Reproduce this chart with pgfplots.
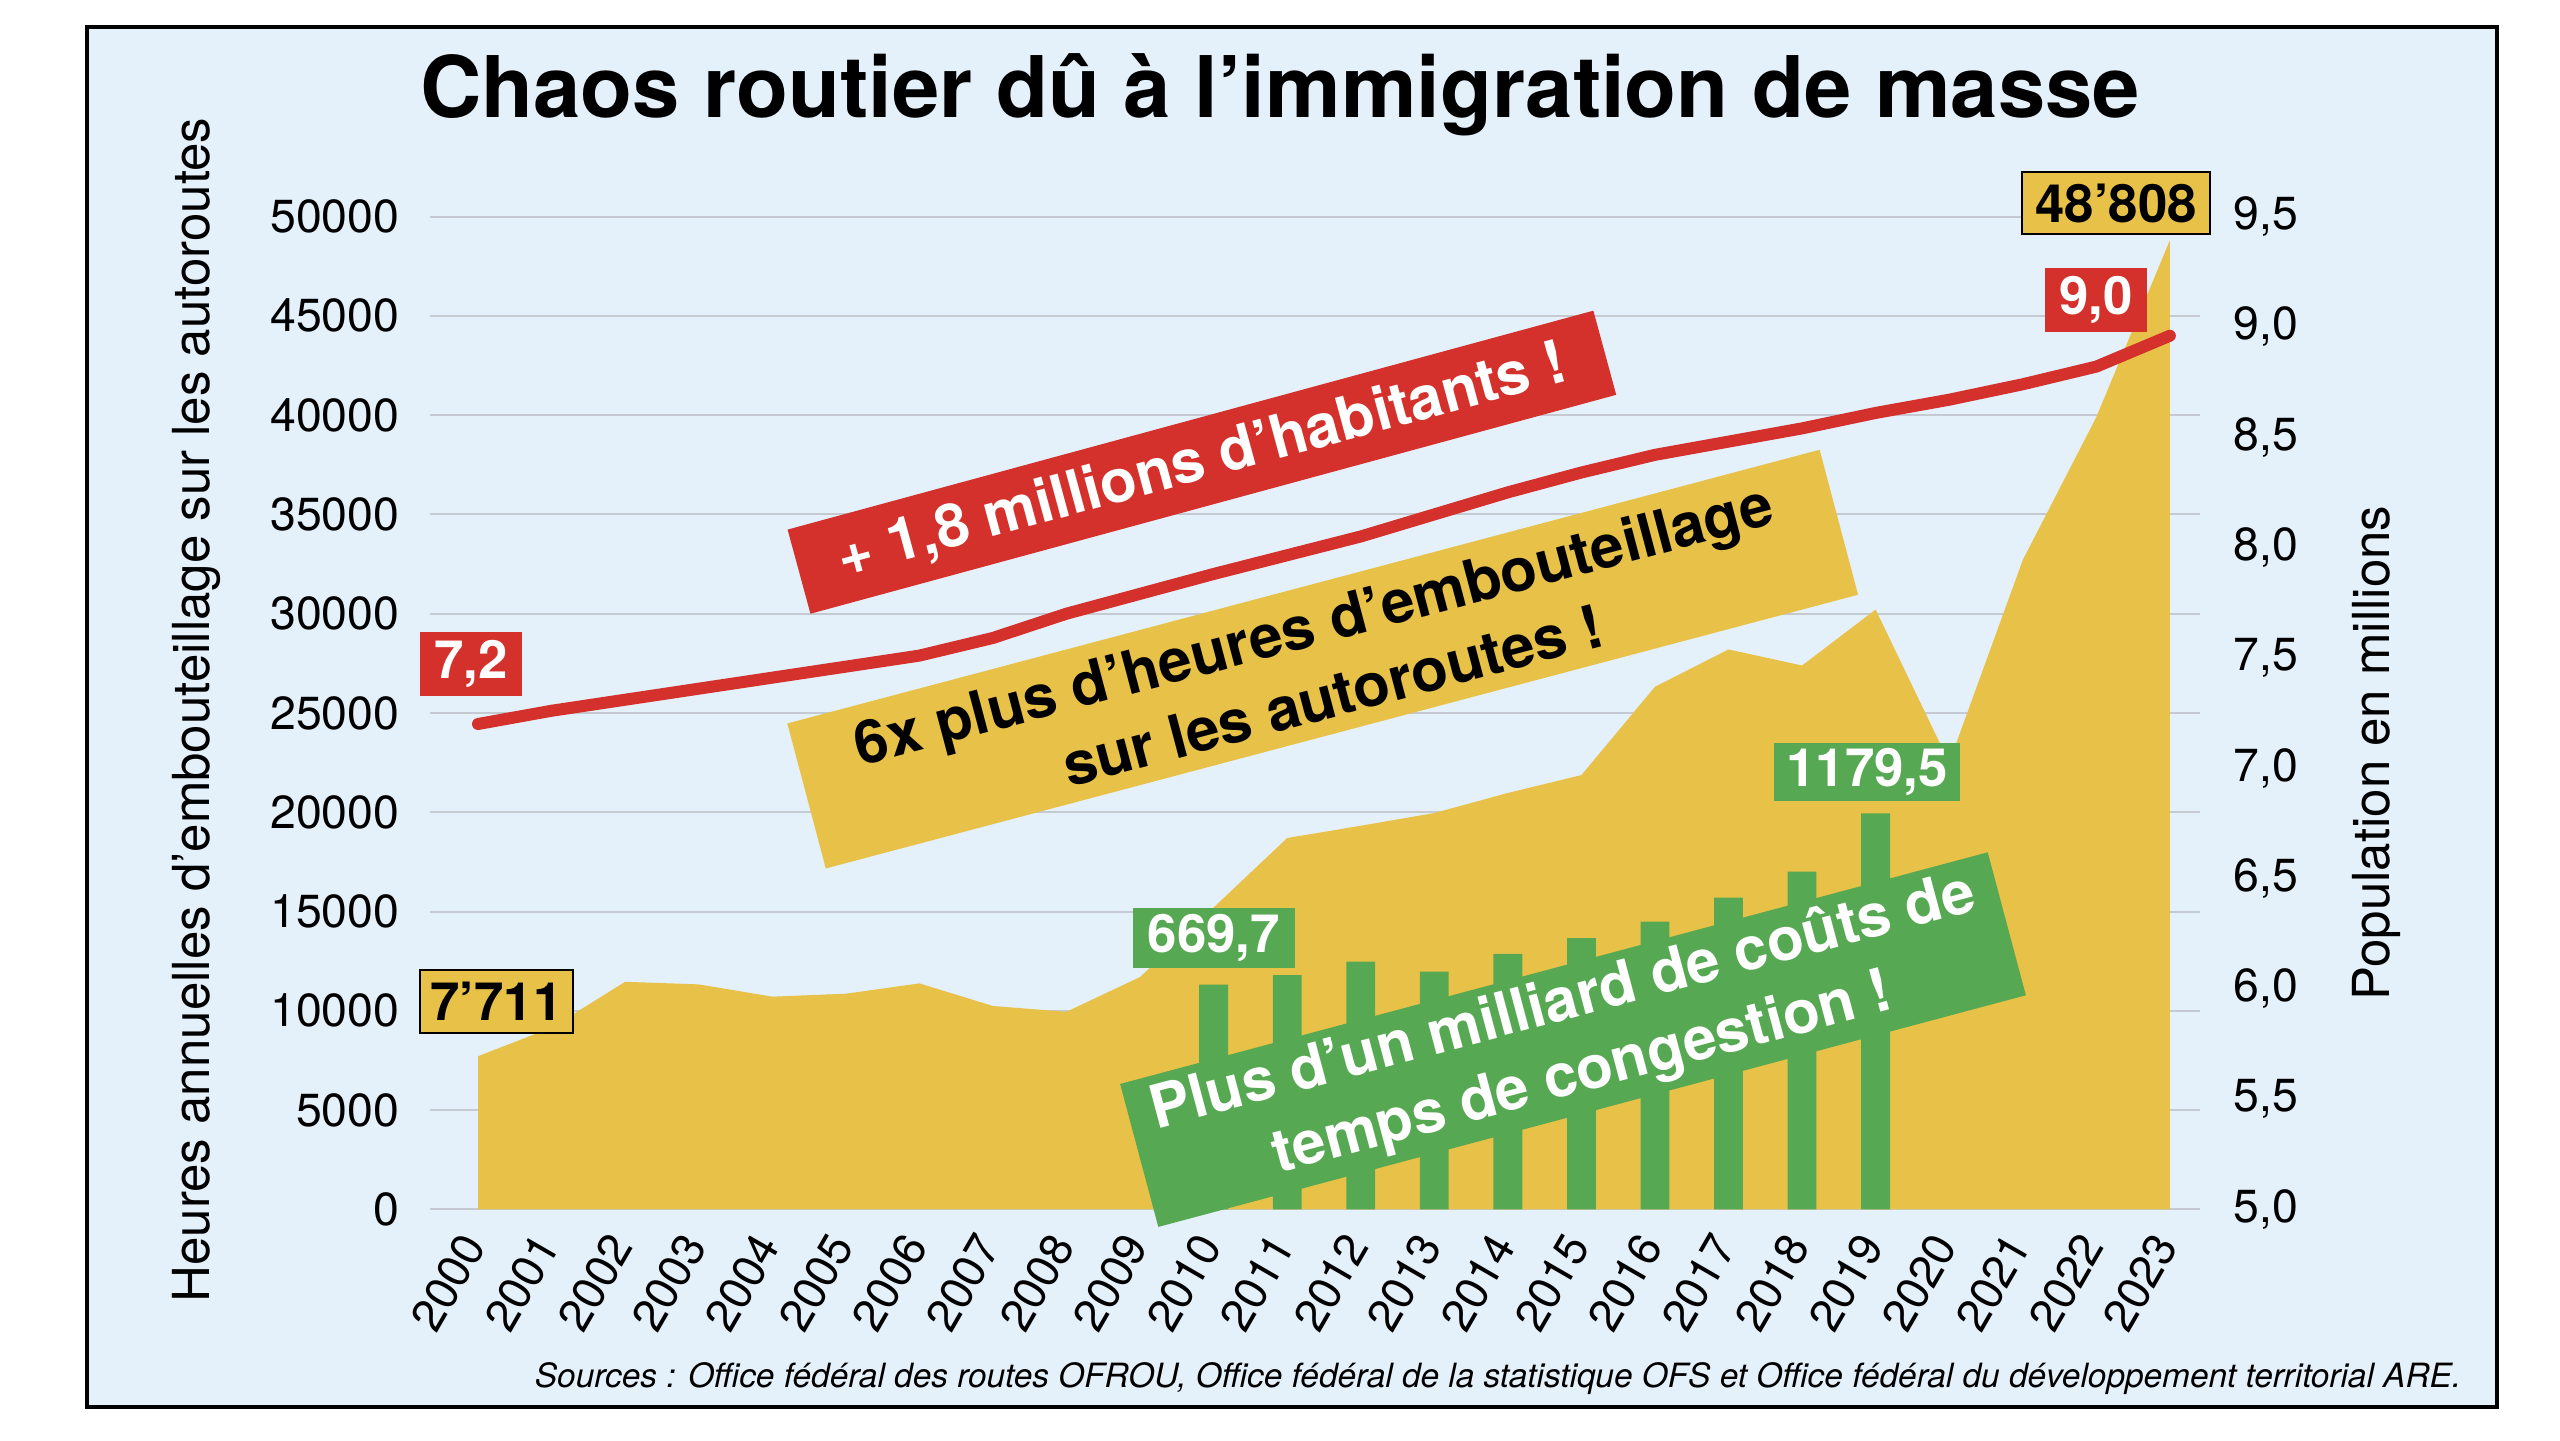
\documentclass[border=0pt]{standalone}
\usepackage{fontspec}
\setmainfont{TeX Gyre Heros}
\usepackage{pgfplots}
\pgfplotsset{compat=1.18}
\definecolor{bgblue}{RGB}{228,240,250}
\definecolor{cyel}{RGB}{232,194,72}
\definecolor{cred}{RGB}{212,48,44}
\definecolor{cgreen}{RGB}{86,168,82}
\definecolor{cgrid}{RGB}{196,201,210}
\pgfplotsset{myaxis/.style={at={(107.5pt,57.675pt)}, anchor=south west, scale only axis,
  width=442.5pt, height=248.175pt, xmin=1999.347, xmax=2023.41, clip=false,
  /pgf/number format/assume math mode=true}}
\begin{document}
\begin{tikzpicture}[x=0.25pt,y=0.25pt]
\fill[white] (0,0) rectangle (2560,1440);
\filldraw[fill=bgblue, draw=black, line width=1pt] (87,33) rectangle (2497,1413);

% Left axis: congestion hours (area)
\begin{axis}[myaxis,
  ymin=0, ymax=50000, ytick={0,5000,10000,15000,20000,25000,30000,35000,40000,45000,50000},
  xtick={2000,2001,...,2023},
  axis line style={draw=none}, major tick length=0pt,
  ymajorgrids, grid style={cgrid, line width=0.5pt},
  scaled y ticks=false,
  /pgf/number format/1000 sep={},
  yticklabel style={font=\fontsize{11.6}{13}\selectfont, inner sep=0pt, xshift=-7.5pt},
  xticklabel style={font=\fontsize{11.4}{13}\selectfont, inner sep=0pt, yshift=-7.2pt, xshift=-1pt, rotate=60, anchor=east},
]
\addplot[fill=cyel, draw=none] coordinates {
(2000,7711) (2001,9150) (2002,11460) (2003,11330) (2004,10710) (2005,10860)
(2006,11380) (2007,10240) (2008,9950) (2009,11700) (2010,15200) (2011,18700)
(2012,19320) (2013,19960) (2014,20970) (2015,21870) (2016,26320) (2017,28200)
(2018,27390) (2019,30210) (2020,22500) (2021,32700) (2022,39900) (2023,48808)
} \closedcycle;
\end{axis}

% Bars: congestion costs (millions)
\begin{axis}[myaxis, hide axis, ymin=0, ymax=2958]
\addplot[ybar, bar width=7.2pt, bar shift=0pt, fill=cgreen, draw=none] coordinates {
(2010,669.7) (2011,698) (2012,738) (2013,708) (2014,761) (2015,808)
(2016,857) (2017,929) (2018,1006) (2019,1179.5)
};
\end{axis}

% Right axis: population
\begin{axis}[myaxis,
  ymin=5, ymax=9.5, ytick={5,5.5,6,6.5,7,7.5,8,8.5,9,9.5},
  axis y line*=right, axis x line=none,
  axis line style={draw=none}, major tick length=0pt,
  yticklabel style={/pgf/number format/.cd, fixed, fixed zerofill, precision=1, use comma, /tikz/.cd,
     font=\fontsize{11.6}{13}\selectfont, inner sep=0pt, xshift=8.25pt},
]
\addplot[cred, line width=3pt, line cap=round, line join=round] coordinates {
(2000,7.20) (2001,7.26) (2002,7.31) (2003,7.36) (2004,7.41) (2005,7.46)
(2006,7.51) (2007,7.59) (2008,7.70) (2009,7.79) (2010,7.88) (2011,7.965)
(2012,8.05) (2013,8.15) (2014,8.25) (2015,8.34) (2016,8.42) (2017,8.48)
(2018,8.54) (2019,8.61) (2020,8.67) (2021,8.74) (2022,8.82) (2023,8.96)
};
\end{axis}

% Axis labels
\node[rotate=90, font=\fontsize{12.75}{14}\selectfont] at (196,730) {Heures annuelles d’embouteillage sur les autoroutes};
\node[rotate=90, font=\fontsize{12.75}{14}\selectfont] at (2376,687) {Population en millions};

% Title
\node[anchor=base, font=\bfseries\fontsize{21.25}{24}\selectfont] at (1280,1323) {Chaos routier dû à l’immigration de masse};

% Sources
\node[anchor=base east, font=\itshape\fontsize{8.35}{10}\selectfont, inner sep=0pt] at (2462,53) {Sources : Office fédéral des routes OFROU, Office fédéral de la statistique OFS et Office fédéral du développement territorial ARE.};

% Value boxes
\tikzset{vbox/.style={inner sep=0pt, font=\bfseries\fontsize{13.2}{15}\selectfont}}
\node[vbox, fill=cred, text=white, minimum width=25.5pt, minimum height=16pt] at (471,776) {7,2};
\node[vbox, fill=cred, text=white, minimum width=25.5pt, minimum height=16pt] at (2096,1140) {9,0};
\node[vbox, fill=cyel, draw=black, line width=0.4pt, minimum width=47pt, minimum height=15.5pt] at (2116,1237) {48’808};
\node[vbox, fill=cyel, draw=black, line width=0.4pt, minimum width=38.25pt, minimum height=15.75pt] at (496.5,438.5) {7’711};
\node[vbox, fill=cgreen, text=white, minimum width=40.5pt, minimum height=15pt] at (1213.7,502.5) {669,7};
\node[vbox, fill=cgreen, text=white, minimum width=46.5pt, minimum height=14.5pt] at (1867,668.5) {1179,5};

% Rotated annotation boxes
\tikzset{abox/.style={inner sep=0pt, align=center, font=\bfseries\fontsize{15}{18.5}\selectfont}}
\node[abox, rotate=15.2, fill=cred, text=white, minimum width=208.75pt, minimum height=21.8pt] at (1201.9,977.8) {+ 1,8 millions d’habitants !};
\node[abox, rotate=14.85, fill=cyel, text=black, minimum width=267pt, minimum height=37.5pt] at (1322.7,780.9) {6x plus d’heures d’embouteillage\\sur les autoroutes !};
\node[abox, rotate=14.95, fill=cgreen, text=white, minimum width=224.5pt, minimum height=37pt] at (1573,400.4) {Plus d’un milliard de coûts de\\temps de congestion !};

\pgfresetboundingbox
\useasboundingbox (0,0) rectangle (2560,1440);
\end{tikzpicture}
\end{document}
